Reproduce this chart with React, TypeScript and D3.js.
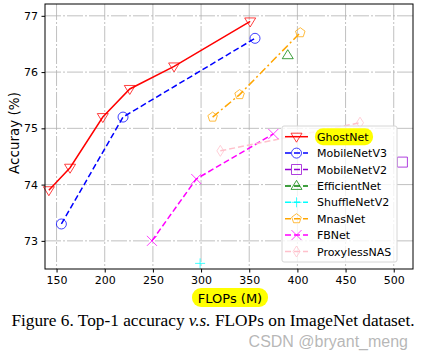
import { useEffect, useRef } from 'react';
import * as d3 from 'd3';

const seriesNames = ['GhostNet', 'MobileNetV3', 'MobileNetV2', 'EfficientNet', 'ShuffleNetV2', 'MnasNet', 'FBNet', 'ProxylessNAS'];
const seriesColors = ['red', 'blue', '#9400D3', 'green', 'cyan', 'orange', 'magenta', 'pink'];
const seriesMarkers = ['v', 'o', 's', '^', '+', 'p', 'x', 'd'];
const seriesDash = ['', '6,3', '6,3', '6,3', '6,3', '8,3,2,3', '6,3', '6,3'];

const ghostFlops = [142, 164, 198, 226, 272, 351];
const ghostAcc = [73.9, 74.3, 75.2, 75.7, 76.1, 76.9];
const mbv3Flops = [155, 219, 356];
const mbv3Acc = [73.3, 75.2, 76.6];
const mbv2Flops = [509];
const mbv2Acc = [74.4];
const effFlops = [390];
const effAcc = [76.3];
const shuffleFlops = [299];
const shuffleAcc = [72.6];
const mnasFlops = [312, 340, 403];
const mnasAcc = [75.2, 75.6, 76.7];
const fbFlops = [249, 295, 375];
const fbAcc = [73.0, 74.1, 74.9];
const proxFlops = [320, 465];
const proxAcc = [74.6, 75.1];

const xTicks = [150, 200, 250, 300, 350, 400, 450, 500];
const yTicks = [73, 74, 75, 76, 77];

function markerPath(type: string, r: number) {
  const p = d3.path();
  if (type === 'o') {
    p.moveTo(r, 0);
    p.arc(0, 0, r, 0, Math.PI * 2);
  } else if (type === 's') {
    p.rect(-r, -r, 2 * r, 2 * r);
  } else if (type === 'v' || type === '^') {
    const s = type === 'v' ? 1 : -1;
    p.moveTo(-r * 1.1, -s * r * 0.7);
    p.lineTo(r * 1.1, -s * r * 0.7);
    p.lineTo(0, s * r * 1.1);
    p.closePath();
  } else if (type === 'p') {
    for (let i = 0; i < 5; i++) {
      const a = -Math.PI / 2 + (i * 2 * Math.PI) / 5;
      if (i === 0) p.moveTo(r * Math.cos(a), r * Math.sin(a));
      else p.lineTo(r * Math.cos(a), r * Math.sin(a));
    }
    p.closePath();
  } else if (type === 'd') {
    p.moveTo(0, -r * 1.1);
    p.lineTo(r * 0.7, 0);
    p.lineTo(0, r * 1.1);
    p.lineTo(-r * 0.7, 0);
    p.closePath();
  } else if (type === '+') {
    p.moveTo(-r, 0); p.lineTo(r, 0);
    p.moveTo(0, -r); p.lineTo(0, r);
  } else if (type === 'x') {
    p.moveTo(-r, -r); p.lineTo(r, r);
    p.moveTo(-r, r); p.lineTo(r, -r);
  }
  return p.toString();
}

export default function App() {
  const svgRef = useRef(null);

  useEffect(() => {
    const width = 423, height = 351;
    const svg = d3.select(svgRef.current);
    svg.selectAll('*').remove();
    svg.attr('width', width).attr('height', height);
    svg.append('rect').attr('width', width).attr('height', height).attr('fill', '#fff');

    const margin = { top: 4, right: 10, bottom: 82, left: 45 };
    const w = width - margin.left - margin.right;
    const h = height - margin.top - margin.bottom;

    const g = svg.append('g').attr('transform', `translate(${margin.left},${margin.top})`);

    const x = d3.scaleLinear().domain([138, 520]).range([0, w]);
    const y = d3.scaleLinear().domain([72.5, 77.21]).range([h, 0]);

    const series = [
      [ghostFlops, ghostAcc], [mbv3Flops, mbv3Acc], [mbv2Flops, mbv2Acc], [effFlops, effAcc],
      [shuffleFlops, shuffleAcc], [mnasFlops, mnasAcc], [fbFlops, fbAcc], [proxFlops, proxAcc],
    ].map(([fx, ay], i) => ({
      name: seriesNames[i], color: seriesColors[i], marker: seriesMarkers[i], dash: seriesDash[i],
      points: fx.map((v, j) => [v, ay[j]] as [number, number]),
    }));

    // Grid
    g.append('g').selectAll('line').data(xTicks).join('line')
      .attr('x1', d => x(d)).attr('x2', d => x(d)).attr('y1', 0).attr('y2', h)
      .attr('stroke', '#b0b0b0').attr('stroke-width', 0.8).attr('stroke-dasharray', '16,2,2,2');
    g.append('g').selectAll('line').data(yTicks).join('line')
      .attr('y1', d => y(d)).attr('y2', d => y(d)).attr('x1', 0).attr('x2', w)
      .attr('stroke', '#b0b0b0').attr('stroke-width', 0.8).attr('stroke-dasharray', '16,2,2,2');

    // Lines
    const line = d3.line<[number, number]>().x(d => x(d[0])).y(d => y(d[1]));
    series.forEach(s => {
      if (s.points.length < 2) return;
      g.append('path').datum(s.points).attr('d', line).attr('fill', 'none')
        .attr('stroke', s.color).attr('stroke-width', 1.5).attr('stroke-dasharray', s.dash || null);
    });

    // Markers
    series.forEach(s => {
      g.append('g').selectAll('path').data(s.points).join('path')
        .attr('transform', d => `translate(${x(d[0])},${y(d[1])})`)
        .attr('d', markerPath(s.marker, 5))
        .attr('fill', 'none').attr('stroke', s.color).attr('stroke-width', 1).attr('stroke-opacity', 0.75);
    });

    // Axes
    const xAxis = g.append('g').attr('transform', `translate(0,${h})`)
      .call(d3.axisBottom(x).tickValues(xTicks).tickSize(3.5).tickPadding(3.5));
    const yAxis = g.append('g')
      .call(d3.axisLeft(y).tickValues(yTicks).tickSize(3.5).tickPadding(3.5).tickFormat(d3.format('d')));
    [xAxis, yAxis].forEach(a => {
      a.select('.domain').remove();
      a.selectAll('text').attr('font-family', 'DejaVu Sans').attr('font-size', '11px').attr('fill', '#000');
    });
    g.append('rect').attr('width', w).attr('height', h).attr('fill', 'none').attr('stroke', '#000').attr('stroke-width', 1);

    // Axis labels
    const xl = svg.append('g');
    xl.append('rect').attr('x', 192).attr('y', 288).attr('width', 76).attr('height', 19).attr('rx', 9).attr('fill', '#ffff00');
    xl.append('text').attr('x', 230).attr('y', 302.5).attr('text-anchor', 'middle')
      .attr('font-family', 'DejaVu Sans').attr('font-size', '13px').text('FLOPs (M)');
    svg.append('text').attr('transform', `translate(19,133) rotate(-90)`)
      .attr('text-anchor', 'middle').attr('font-family', 'DejaVu Sans').attr('font-size', '13.5px').text('Accuray (%)');

    // Legend
    const lg = svg.append('g').attr('transform', 'translate(282,126)');
    lg.append('rect').attr('width', 115).attr('height', 136).attr('rx', 2)
      .attr('fill', '#fff').attr('fill-opacity', 0.8).attr('stroke', '#d6d6d6');
    series.forEach((s, i) => {
      const yy = 10.7 + i * 16.4;
      const row = lg.append('g').attr('transform', `translate(0,${yy})`);
      if (i === 0) {
        row.append('rect').attr('x', 33).attr('y', -8.5).attr('width', 58).attr('height', 17).attr('rx', 8).attr('fill', '#ffff00');
      }
      row.append('line').attr('x1', 3).attr('x2', 26).attr('stroke', s.color).attr('stroke-width', 1.5)
        .attr('stroke-dasharray', i === 0 ? null : '6,3');
      row.append('path').attr('transform', 'translate(14.5,0)').attr('d', markerPath(s.marker, 5))
        .attr('fill', 'none').attr('stroke', s.color).attr('stroke-width', 1).attr('stroke-opacity', 0.75);
      row.append('text').attr('x', 35).attr('y', 4).attr('font-family', 'DejaVu Sans').attr('font-size', '11px').text(s.name);
    });

    // Caption
    const cap = svg.append('text').attr('x', 213).attr('y', 326).attr('text-anchor', 'middle')
      .attr('font-family', 'Liberation Serif').attr('font-size', '17.3px').attr('fill', '#000');
    cap.append('tspan').text('Figure 6. Top-1 accuracy ');
    cap.append('tspan').attr('font-style', 'italic').text('v.s.');
    cap.append('tspan').text(' FLOPs on ImageNet dataset.');

    svg.append('text').attr('x', 408).attr('y', 347).attr('text-anchor', 'end')
      .attr('font-family', 'Liberation Sans').attr('font-size', '16px').attr('fill', '#aaaaaa').attr('fill-opacity', 0.85)
      .text('CSDN @bryant_meng');
  }, []);

  return (
    <svg ref={svgRef} style={{ position: 'absolute', left: 0, top: 0 }} />
  );
}
